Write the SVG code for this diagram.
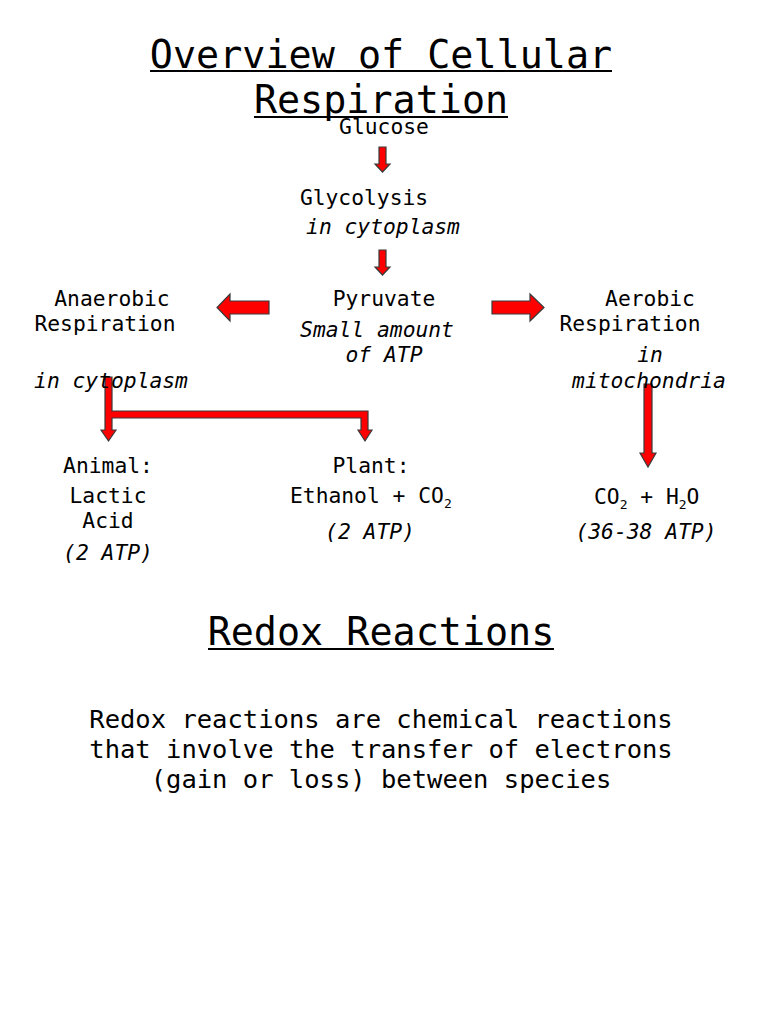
<svg xmlns="http://www.w3.org/2000/svg" width="768" height="1024" viewBox="0 0 768 1024">
<style>
text{font-family:"DejaVu Sans Mono","Liberation Mono",monospace;fill:#000;text-anchor:middle}
.t{font-size:38.4px}
.n{font-size:21.3px}
.i{font-size:21.3px;font-style:italic}
.p{font-size:25.5px}
.a{fill:#ff0000;stroke:#3a3a3a;stroke-width:1.2;stroke-linejoin:miter}
.u{stroke:#000;stroke-width:2}
</style>
<rect width="768" height="1024" fill="#fff"/>
<g id="title">
<text class="t" x="381" y="68">Overview of Cellular</text>
<text class="t" x="381" y="113">Respiration</text>
<line class="u" x1="150" y1="71" x2="612" y2="71"/>
<line class="u" x1="254" y1="117" x2="508" y2="117"/>
</g>
<g id="connectors">
<polygon class="a" points="379,147 386,147 386,164 390,164 382.5,172 375,164 379,164"/>
<polygon class="a" points="379,250 386,250 386,267 390,267 382.5,275 375,267 379,267"/>
<polygon class="a" points="269,301 230,301 230,294 217,307.5 230,321 230,314 269,314"/>
<polygon class="a" points="492,301 530,301 530,294 544,307.5 530,321 530,314 492,314"/>
<polygon class="a" points="105,377 112,377 112,411 368,411 368,430 372,430 365,441 358,430 361,430 361,418 112,418 112,430 116,430 108.5,441 101,430 105,430"/>
<polygon class="a" points="644,384 652,384 652,453 656,453 648,467 640,453 644,453"/>
</g>
<g id="glucose"><text class="n" x="384" y="134">Glucose</text></g>
<g id="glycolysis">
<text class="n" x="364" y="205">Glycolysis</text>
<text class="i" x="383" y="234">in cytoplasm</text>
</g>
<g id="pyruvate">
<text class="n" x="384" y="306">Pyruvate</text>
<text class="i" x="377" y="337">Small amount</text>
<text class="i" x="384" y="362">of ATP</text>
</g>
<g id="anaerobic">
<text class="n" x="112" y="306">Anaerobic</text>
<text class="n" x="105" y="331">Respiration</text>
<text class="i" x="111" y="388">in cytoplasm</text>
</g>
<g id="aerobic">
<text class="n" x="650" y="306">Aerobic</text>
<text class="n" x="630" y="331">Respiration</text>
<text class="i" x="650" y="362">in</text>
<text class="i" x="649" y="388">mitochondria</text>
</g>
<g id="animal">
<text class="n" x="108" y="473">Animal:</text>
<text class="n" x="108" y="503">Lactic</text>
<text class="n" x="108" y="528">Acid</text>
<text class="i" x="108" y="560">(2 ATP)</text>
</g>
<g id="plant">
<text class="n" x="371" y="503" style="text-anchor:start" dx="-81">Ethanol + CO<tspan font-size="13" dy="5">2</tspan></text>
<text class="n" x="371" y="473">Plant:</text>
<text class="i" x="370" y="539">(2 ATP)</text>
</g>
<g id="aerobic-products">
<text class="n" x="594" y="504" style="text-anchor:start">CO<tspan font-size="13" dy="5">2</tspan><tspan dy="-5"> + H</tspan><tspan font-size="13" dy="5">2</tspan><tspan dy="-5">O</tspan></text>
<text class="i" x="646" y="539">(36-38 ATP)</text>
</g>
<g id="redox">
<text class="t" x="381" y="645">Redox Reactions</text>
<line class="u" x1="208" y1="649" x2="554" y2="649"/>
<text class="p" x="381" y="728">Redox reactions are chemical reactions</text>
<text class="p" x="381" y="758">that involve the transfer of electrons</text>
<text class="p" x="381" y="788">(gain or loss) between species</text>
</g>
</svg>
